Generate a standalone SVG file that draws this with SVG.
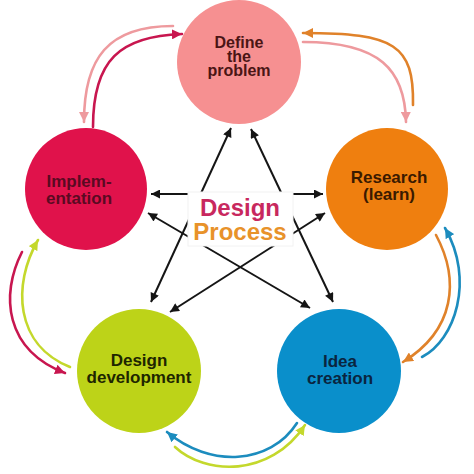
<svg xmlns="http://www.w3.org/2000/svg" width="474" height="474" viewBox="0 0 474 474">
<style>
.nt{font-family:"Liberation Sans",Arial,sans-serif;font-weight:bold;font-size:17px;text-anchor:middle}
.dt{font-size:16px}
.ct{font-family:"Liberation Sans",Arial,sans-serif;font-weight:bold;font-size:24px;text-anchor:middle}
.star{stroke:#151515;stroke-width:2;fill:none;marker-start:url(#bk);marker-end:url(#bk)}
.cv{fill:none;stroke-width:2.6;stroke-linecap:round}
</style>
<defs>
<marker id="bk" viewBox="0 0 10 10" refX="10" refY="5" markerWidth="11" markerHeight="9" markerUnits="userSpaceOnUse" orient="auto-start-reverse"><path d="M0,0 L10,5 L0,10 z" fill="#151515"/></marker>
<marker id="mCr" viewBox="0 0 10 10" refX="10" refY="5" markerWidth="10" markerHeight="10" markerUnits="userSpaceOnUse" orient="auto"><path d="M0,0 L10,5 L0,10 z" fill="#C8164F"/></marker>
<marker id="mPk" viewBox="0 0 10 10" refX="10" refY="5" markerWidth="10" markerHeight="10" markerUnits="userSpaceOnUse" orient="auto"><path d="M0,0 L10,5 L0,10 z" fill="#EE9A9E"/></marker>
<marker id="mOr" viewBox="0 0 10 10" refX="10" refY="5" markerWidth="10" markerHeight="10" markerUnits="userSpaceOnUse" orient="auto"><path d="M0,0 L10,5 L0,10 z" fill="#E0822A"/></marker>
<marker id="mBl" viewBox="0 0 10 10" refX="10" refY="5" markerWidth="10" markerHeight="10" markerUnits="userSpaceOnUse" orient="auto"><path d="M0,0 L10,5 L0,10 z" fill="#1C8CBE"/></marker>
<marker id="mLm" viewBox="0 0 10 10" refX="10" refY="5" markerWidth="10" markerHeight="10" markerUnits="userSpaceOnUse" orient="auto"><path d="M0,0 L10,5 L0,10 z" fill="#C4D82C"/></marker>
</defs>
<rect width="474" height="474" fill="#ffffff"/>
<g id="connectors">
<path class="cv" stroke="#C8164F" marker-end="url(#mCr)" d="M93,127 C93,60 120,36 182,34"/>
<path class="cv" stroke="#EE9A9E" marker-end="url(#mPk)" d="M173,26 C108,26 84,58 84,122"/>
<path class="cv" stroke="#E0822A" marker-end="url(#mOr)" d="M413,105 C414,45 395,33 303,33"/>
<path class="cv" stroke="#EE9A9E" marker-end="url(#mPk)" d="M303,42 C380,42 405,70 406,122"/>
<path class="cv" stroke="#1C8CBE" marker-end="url(#mBl)" d="M422,357 C455,340 475,280 445,228"/>
<path class="cv" stroke="#E0822A" marker-end="url(#mOr)" d="M436,235 C460,280 455,330 403,362"/>
<path class="cv" stroke="#1C8CBE" marker-end="url(#mBl)" d="M297,423 C270,465 210,468 167,432"/>
<path class="cv" stroke="#C4D82C" marker-end="url(#mLm)" d="M175,447 C205,475 270,478 305,425"/>
<path class="cv" stroke="#C8164F" marker-end="url(#mCr)" d="M22,252 C0,295 5,350 65,373"/>
<path class="cv" stroke="#C4D82C" marker-end="url(#mLm)" d="M70,367 C15,345 12,285 38,240"/>
<line class="star" x1="151" y1="194" x2="323" y2="194"/>
<line class="star" x1="231" y1="128" x2="151" y2="302"/>
<line class="star" x1="251" y1="129" x2="333" y2="302"/>
<line class="star" x1="148" y1="213" x2="310" y2="308"/>
<line class="star" x1="325" y1="213" x2="170" y2="312"/>
</g>
<g id="center">
<rect x="188" y="192" width="105" height="54" fill="#ffffff" stroke="#f2f2f2" stroke-width="1"/>
<text class="ct" x="240" y="216" fill="#C8285E">Design</text>
<text class="ct" x="240" y="240" fill="#E8922A">Process</text>
</g>
<g id="define">
<circle cx="239" cy="62" r="62" fill="#F69091"/>
<text class="nt dt" fill="#4A1515"><tspan x="239" y="48">Define</tspan><tspan x="239" y="62">the</tspan><tspan x="239" y="76">problem</tspan></text>
</g>
<g id="research">
<circle cx="387" cy="189" r="61" fill="#EF7F0F"/>
<text class="nt" fill="#3A1A00"><tspan x="389" y="183">Research</tspan><tspan x="389" y="200">(learn)</tspan></text>
</g>
<g id="implementation">
<circle cx="86" cy="189" r="61" fill="#E0124B"/>
<text class="nt" fill="#5A0A22"><tspan x="79" y="187">Implem-</tspan><tspan x="79" y="204">entation</tspan></text>
</g>
<g id="design-development">
<circle cx="139" cy="371" r="62" fill="#BDD318"/>
<text class="nt" fill="#1E2600"><tspan x="139" y="366">Design</tspan><tspan x="139" y="383">development</tspan></text>
</g>
<g id="idea-creation">
<circle cx="339" cy="371" r="62" fill="#0A8FCB"/>
<text class="nt" fill="#0A2540"><tspan x="340" y="367">Idea</tspan><tspan x="340" y="384">creation</tspan></text>
</g>
</svg>
